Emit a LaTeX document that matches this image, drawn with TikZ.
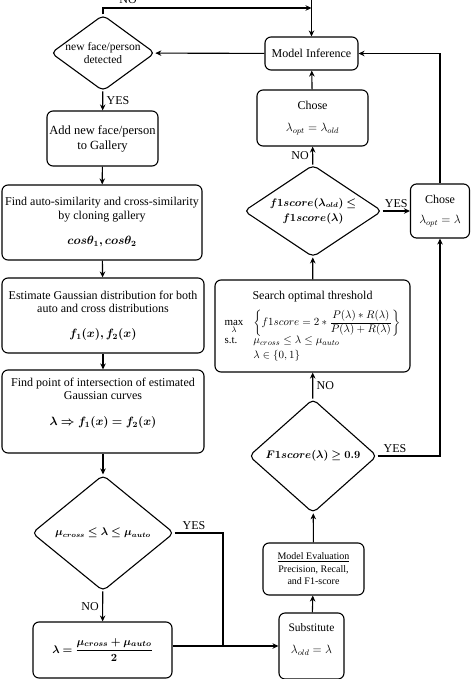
\documentclass[tikz,border=0pt]{standalone}
\usepackage{amsmath,bm}
\usepackage{fontspec}
\setmainfont{Liberation Serif}
\usetikzlibrary{shapes.geometric,arrows.meta}

\newcommand{\mathsz}[2]{{\fontsize{#1}{#1}\selectfont$#2$}}

\begin{document}
\begin{tikzpicture}[x=1pt,y=-1pt,->,>={Stealth[length=6pt,width=5.5pt]},line width=1.1pt,font=\fontsize{12}{13.5}\selectfont,
    box node/.style={rectangle,rounded corners=6pt,draw,align=center,inner sep=1pt},
    test node/.style={diamond,aspect=1.3,rounded corners=5pt,draw,align=center,inner sep=-6pt}]
            \useasboundingbox (0,0) rectangle (474,679);

            \node[test node, minimum width=104, minimum height=76, font=\fontsize{11.5}{13.5}\selectfont] (1) at (103,53) {new face/person\\detected};
            \node[box node, minimum width=111, minimum height=55, font=\fontsize{12.5}{15}\selectfont] (2) at (102.5,138.5) {Add new face/person\\to Gallery};
            \node[box node, minimum width=200, minimum height=75] (3) at (102,222.5) {Find auto-similarity and cross-similarity\\by cloning gallery\\[12pt]$\boldsymbol{cos\theta_1, cos\theta_2}$};
            \node[box node, minimum width=202, minimum height=75] (4) at (103,315.5) {Estimate Gaussian distribution for both\\auto and cross distributions\\[11pt]$\boldsymbol{f_1(x), f_2(x)}$};
            \node[box node, minimum width=202, minimum height=83] (5) at (103,411.5) {Find point of intersection of estimated\\Gaussian curves\\[12pt]$\boldsymbol{\lambda\Rightarrow f_1(x)=f_2(x)}$\\[6.5pt]\phantom{x}};
            \node[test node, minimum width=142, minimum height=116, font=\fontsize{10.5}{12}\selectfont] (6) at (103,533) {$\boldsymbol{\mu_{cross}\leq\lambda\leq\mu_{auto}}$};
            \node[box node, minimum width=139, minimum height=56, font=\fontsize{11}{13}\selectfont] (7) at (102.5,650) {$\boldsymbol{\lambda=\dfrac{\mu_{cross}+\mu_{auto}}{2}}$};

            \node[box node, minimum width=93, minimum height=33] (a) at (311.5,53.5) {Model Inference};
            \node[box node, minimum width=111, minimum height=56] (b) at (312.5,118) {Chose\\[9pt]\mathsz{12}{\lambda_{opt}=\lambda_{old}}};
            \node[test node, minimum width=138, minimum height=92, font=\fontsize{10.5}{13}\selectfont] (c) at (313,211) {$\boldsymbol{f1score(\lambda_{old})\leq}$\\[2pt]$\boldsymbol{f1score(\lambda)}$};
            \node[box node, minimum width=195, minimum height=92] (d) at (312.5,326) {{\fontsize{12}{13}\selectfont Search optimal threshold}\\[7pt]
                \mathsz{10.95}{\begin{array}{@{}l@{\hspace{10pt}}l@{}}
                \max\limits_{\lambda} & \left\{ f1score = 2*\dfrac{P(\lambda)*R(\lambda)}{P(\lambda)+R(\lambda)} \right\}\\[6pt]
                \text{s.t.} & \mu_{cross}\leq\lambda\leq\mu_{auto}\\[3pt]
                 & \lambda\in\{0,1\}
                \end{array}}};
            \node[test node, minimum width=128, minimum height=114, font=\fontsize{11}{13}\selectfont] (e) at (313,456) {$\boldsymbol{F1score(\lambda)\geq 0.9}$};
            \node[box node, minimum width=101, minimum height=52, font=\fontsize{10}{12.5}\selectfont] (f) at (313.5,569) {\underline{Model Evaluation}\\Precision, Recall,\\and F1-score};
            \node[box node, minimum width=65, minimum height=66, font=\fontsize{11.5}{13.5}\selectfont] (g) at (311.5,646) {Substitute\\[8pt]\mathsz{12}{\lambda_{old}=\lambda}\\[1pt]\phantom{x}};
            \node[box node, minimum width=59, minimum height=54] (h) at (440,211) {Chose\\[6pt]\mathsz{12}{\lambda_{opt}=\lambda}};

            \coordinate (top) at (311.5,-5);
            \coordinate (j1) at (311.5,8);
            \coordinate (j2) at (223,646);

            \path[every node/.style={font=\fontsize{12}{13}\selectfont}]
                (top) edge (a)
                (a) edge (1)
                (1) edge node[right] {YES} (2)
                (2) edge (3)
                (3) edge (4)
                (4) edge (5)
                (5) edge (6)
                (6) edge node[left] {NO} (7)
                (g) edge (f)
                (f) edge (e)
                (e) edge node[right] {NO} (d)
                (d) edge (c)
                (c) edge node[above] {YES} (h)
                (c) edge node[left] {NO} (b)
                (b) edge (a)
                ;
            \draw (1.north) |- node[pos=0.56, above, font=\fontsize{12}{13}\selectfont] {NO} (j1);
            \draw[-] (6.east) -| node[pos=0.2, above, font=\fontsize{12}{13}\selectfont] {YES} (j2);
            \draw (7.east |- g.west) -- (g.west);
            \draw (e.east) -| node[pos=0.14, above, font=\fontsize{12}{13}\selectfont] {YES} (h.south);
            \draw (h.north) |- (a.east);
        \end{tikzpicture}
\end{document}
